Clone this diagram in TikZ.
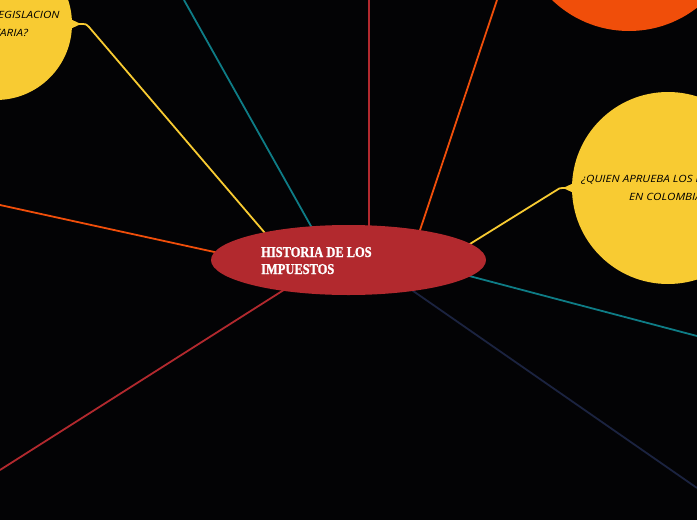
\documentclass[tikz,border=0pt]{standalone}
\usepackage{fontspec}
\usetikzlibrary{backgrounds,shapes.geometric}
\newfontfamily\handfont{Open Sans}[FakeStretch=1.16]
\newfontfamily\titlefont{Liberation Serif}[FakeStretch=0.83, BoldFeatures={FakeBold=1.2}]
\definecolor{bgblack}{HTML}{030305}
\definecolor{mred}{HTML}{B2292E}
\definecolor{morange}{HTML}{F04E0A}
\definecolor{myellow}{HTML}{F8CB32}
\definecolor{mteal}{HTML}{0E7C86}
\definecolor{mnavy}{HTML}{1B2340}
\tikzset{
  link/.style={line width=1.8pt},
  bubble/.style={circle, fill=myellow, inner sep=0pt, text=black, align=center,
    font=\handfont\itshape\fontsize{10}{18}\selectfont},
  titletext/.style={anchor=base west, inner sep=0pt, text=white,
    font=\titlefont\bfseries\fontsize{15}{17}\selectfont},
}
\begin{document}
\begin{tikzpicture}[x=1pt,y=-1pt]
\useasboundingbox (0,0) rectangle (697,520);
\clip (0,0) rectangle (697,520);
% nodes
\node[ellipse, fill=mred, minimum width=275pt, minimum height=70pt, inner sep=0pt] (main) at (348.5,260) {};
\node[titletext] (t1) at (261,257) {HISTORIA DE LOS};
\node[titletext] (t2) at (261,274) {IMPUESTOS};
\node[bubble, minimum size=152pt] (lc) at (-4,24) {¿QUE ES LA LEGISLACION\\TRIBUTARIA?};
\node[bubble, minimum size=192pt] (rc) at (668,188) {¿QUIEN APRUEBA LOS IMPUESTOS\\EN COLOMBIA?};
\node[circle, fill=morange, inner sep=0pt, minimum size=222pt] (oc) at (629,-80) {};
% coordinates
\coordinate (a0) at (330,260);  \coordinate (a1) at (184,0);
\coordinate (b0) at (369,260);  \coordinate (b1) at (369,0);
\coordinate (c0) at (410,260);  \coordinate (c1) at (497,0);
\coordinate (d0) at (260,262);  \coordinate (d1) at (0,205);
\coordinate (e0) at (320,267);  \coordinate (e1) at (0,470);
\coordinate (f0) at (420,263);  \coordinate (f1) at (697,336);
\coordinate (g0) at (380,268);  \coordinate (g1) at (697,488);
\coordinate (h0) at (288,260);  \coordinate (h1) at (89,27);  \coordinate (h2) at (80,24);
\coordinate (k0) at (420,275);  \coordinate (k1) at (556,190.5); \coordinate (k2) at (563,188);
\begin{scope}[on background layer]
\fill[bgblack] (0,0) rectangle (697,520);
\draw[link, mteal] (a0) -- (a1);
\draw[link, mred] (b0) -- (b1);
\draw[link, morange] (c0) -- (c1);
\draw[link, morange] (d0) -- (d1);
\draw[link, mred] (e0) -- (e1);
\draw[link, mteal] (f0) -- (f1);
\draw[link, mnavy] (g0) -- (g1);
\draw[link, myellow] (h0) -- (h1) .. controls (86,24) .. (h2) -- (lc.east);
\fill[myellow] (lc.east) ++(-2,-5) -- ++(9,4.2) -- ++(0,1.6) -- ++(-9,4.2) -- cycle;
\draw[link, myellow] (k0) -- (k1) .. controls (559,188.3) .. (k2) -- (rc.west);
\fill[myellow] (rc.west) ++(2,-5) -- ++(-9,4.2) -- ++(0,1.6) -- ++(9,4.2) -- cycle;
\end{scope}
\end{tikzpicture}
\end{document}
